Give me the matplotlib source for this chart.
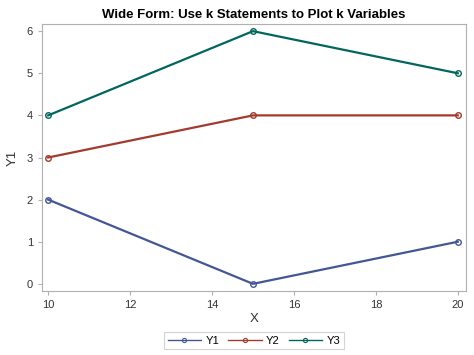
import matplotlib.pyplot as plt
from matplotlib.lines import Line2D

x = [10, 15, 20]
y1 = [2, 0, 1]
y2 = [3, 4, 4]
y3 = [4, 6, 5]
names = ['Y1', 'Y2', 'Y3']
colors = ['#445694', '#A23A2E', '#01665E']

plt.rcParams['font.family'] = ['Liberation Sans', 'DejaVu Sans']

fig = plt.figure(figsize=(4.74, 3.55), dpi=100)
ax = fig.add_axes([42 / 474, 64 / 355, 424 / 474, 267 / 355])

for ys, name, c in zip([y1, y2, y3], names, colors):
    ax.plot(x, ys, color=c, lw=1.6, marker='o', ms=4, mfc='none', mec=c,
            mew=1, label=name)

ax.set_xlim(9.85, 20.2)
ax.set_ylim(-0.17, 6.17)
ax.set_xticks([10, 12, 14, 16, 18, 20])
ax.set_yticks(range(7))
for s in ax.spines.values():
    s.set_color('#b0b0b0')
ax.tick_params(colors='#b0b0b0', labelcolor='#333333', labelsize=8, length=3)
ax.set_xlabel('X', fontsize=9.5, color='#333333', labelpad=2)
ax.set_ylabel('Y1', fontsize=9.5, color='#333333', labelpad=6)
ax.set_title('Wide Form: Use k Statements to Plot k Variables',
             fontsize=9.5, fontweight='bold', pad=4)

# legend keys drawn thinner than the plot lines, centred under the axes
handles = [Line2D([], [], color=c, lw=1, marker='o', ms=3, mfc='none',
                  mec=c, mew=0.8) for c in colors]
leg = fig.legend(handles, names, loc='lower center',
                 bbox_to_anchor=(254 / 474, 0.0), ncol=3, fontsize=8,
                 frameon=True, fancybox=False, handlelength=3.0,
                 columnspacing=0.8, handletextpad=0.4, borderpad=0.35)
leg.get_frame().set_edgecolor('#c8c8c8')
leg.get_frame().set_linewidth(0.8)

fig.savefig('out.png', dpi=100)
